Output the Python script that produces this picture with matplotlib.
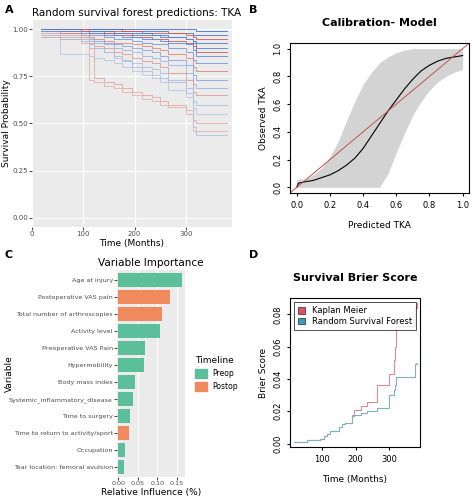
import matplotlib
matplotlib.use("Agg")
import matplotlib.pyplot as plt
import numpy as np
from matplotlib.patches import Patch

# ---- Panel A data ----
times_a = [18, 55, 95, 110, 120, 140, 160, 175, 195, 215, 235, 250, 265, 300, 315, 320, 380]
curves_a = [
    [1.00, 1.00, 1.00, 1.00, 1.00, 1.00, 1.00, 1.00, 1.00, 1.00, 1.00, 1.00, 1.00, 1.00, 1.00, 0.99, 0.99],
    [1.00, 1.00, 1.00, 1.00, 1.00, 1.00, 1.00, 0.99, 0.99, 0.99, 0.99, 0.99, 0.98, 0.98, 0.97, 0.97, 0.97],
    [1.00, 1.00, 1.00, 0.99, 0.99, 0.99, 0.99, 0.99, 0.99, 0.98, 0.98, 0.98, 0.98, 0.97, 0.96, 0.95, 0.95],
    [1.00, 1.00, 0.99, 0.99, 0.99, 0.99, 0.98, 0.98, 0.98, 0.98, 0.97, 0.97, 0.96, 0.95, 0.94, 0.93, 0.93],
    [0.99, 0.99, 0.99, 0.99, 0.99, 0.98, 0.98, 0.98, 0.97, 0.97, 0.97, 0.96, 0.96, 0.95, 0.93, 0.90, 0.90],
    [0.99, 0.99, 0.99, 0.98, 0.98, 0.98, 0.97, 0.97, 0.96, 0.96, 0.95, 0.95, 0.94, 0.93, 0.91, 0.88, 0.88],
    [0.99, 0.99, 0.98, 0.98, 0.98, 0.97, 0.97, 0.96, 0.96, 0.95, 0.95, 0.94, 0.93, 0.92, 0.89, 0.86, 0.86],
    [0.99, 0.98, 0.98, 0.97, 0.97, 0.96, 0.95, 0.95, 0.94, 0.93, 0.92, 0.92, 0.90, 0.88, 0.84, 0.82, 0.82],
    [0.98, 0.98, 0.97, 0.96, 0.95, 0.94, 0.93, 0.93, 0.92, 0.91, 0.90, 0.89, 0.87, 0.85, 0.80, 0.78, 0.78],
    [0.98, 0.97, 0.96, 0.95, 0.94, 0.93, 0.92, 0.91, 0.90, 0.89, 0.88, 0.86, 0.84, 0.81, 0.76, 0.73, 0.73],
    [0.98, 0.97, 0.96, 0.94, 0.93, 0.92, 0.90, 0.89, 0.88, 0.86, 0.85, 0.83, 0.81, 0.77, 0.71, 0.69, 0.69],
    [0.97, 0.96, 0.95, 0.93, 0.91, 0.90, 0.88, 0.87, 0.85, 0.83, 0.82, 0.80, 0.77, 0.73, 0.67, 0.65, 0.65],
    [0.97, 0.95, 0.94, 0.92, 0.90, 0.88, 0.86, 0.84, 0.82, 0.80, 0.79, 0.77, 0.73, 0.69, 0.62, 0.60, 0.60],
    [0.96, 0.87, 0.87, 0.86, 0.85, 0.84, 0.82, 0.80, 0.78, 0.76, 0.74, 0.72, 0.68, 0.64, 0.58, 0.55, 0.55],
    [0.96, 0.95, 0.93, 0.90, 0.74, 0.72, 0.71, 0.69, 0.67, 0.65, 0.64, 0.62, 0.60, 0.57, 0.52, 0.50, 0.50],
    [0.98, 0.97, 0.95, 0.73, 0.72, 0.70, 0.69, 0.67, 0.65, 0.63, 0.62, 0.60, 0.59, 0.55, 0.48, 0.46, 0.46],
    [0.97, 0.96, 0.94, 0.92, 0.90, 0.88, 0.85, 0.83, 0.80, 0.78, 0.76, 0.74, 0.72, 0.66, 0.46, 0.44, 0.44],
]
colors_a = ["#3f6fd0", "#4472d2", "#d9584e", "#4a78d4", "#5580d6", "#cf5a5a", "#6088d8", "#7195dc",
            "#e0847a", "#86a4e0", "#9ab3e4", "#e09a92", "#a9bde6", "#b6c6e8", "#e0a8a2", "#e8b0aa", "#b0bfdc"]

# ---- Panel B data ----
pred_b = [0.0, 0.01, 0.05, 0.1, 0.15, 0.2, 0.25, 0.3, 0.35, 0.4, 0.45, 0.5, 0.55, 0.6, 0.65, 0.7, 0.75, 0.8, 0.85, 0.9, 0.95, 1.0]
obs_b = [0.0, 0.03, 0.04, 0.05, 0.07, 0.09, 0.12, 0.16, 0.21, 0.28, 0.37, 0.46, 0.55, 0.63, 0.71, 0.78, 0.84, 0.88, 0.91, 0.93, 0.94, 0.95]
lo_b = [0.0, 0.0, 0.0, 0.0, 0.0, 0.0, 0.0, 0.0, 0.0, 0.0, 0.0, 0.0, 0.1, 0.25, 0.39, 0.52, 0.62, 0.70, 0.76, 0.80, 0.83, 0.85]
hi_b = [0.05, 0.06, 0.06, 0.09, 0.14, 0.22, 0.33, 0.48, 0.62, 0.74, 0.83, 0.90, 0.94, 0.97, 0.99, 1.0, 1.0, 1.0, 1.0, 1.0, 1.0, 1.0]

# ---- Panel C data ----
variables = ["Age at injury", "Postoperative VAS pain", "Total number of arthroscopies", "Activity level",
             "Preoperative VAS Pain", "Hypermobility", "Body mass index", "Systemic_inflammatory_disease",
             "Time to surgery", "Time to return to activity/sport", "Occupation", "Tear location: femoral avulsion"]
influence = [0.162, 0.133, 0.112, 0.106, 0.069, 0.066, 0.043, 0.037, 0.029, 0.028, 0.016, 0.015]
timeline = ["Preop", "Postop", "Postop", "Preop", "Preop", "Preop", "Preop", "Preop", "Preop", "Postop", "Preop", "Preop"]

# ---- Panel D data ----
t_d = [18, 55, 95, 105, 115, 125, 150, 160, 170, 190, 195, 215, 235, 265, 300, 315, 318, 322, 375, 378, 382]
km_d = [0.001, 0.002, 0.003, 0.005, 0.006, 0.008, 0.010, 0.012, 0.013, 0.018, 0.021, 0.023, 0.026, 0.036, 0.043, 0.052, 0.060, 0.073, 0.073, 0.084, 0.087]
rsf_d = [0.001, 0.002, 0.003, 0.005, 0.006, 0.008, 0.010, 0.012, 0.013, 0.017, 0.018, 0.019, 0.020, 0.022, 0.030, 0.033, 0.036, 0.041, 0.041, 0.049, 0.050]

fig = plt.figure(figsize=(4.74, 5.01), dpi=100)
fig.patch.set_facecolor("white")
grey = "#4d4d4d"

# Panel A
ax = fig.add_axes([0.068, 0.547, 0.421, 0.413])
ax.set_facecolor("#ebebeb")
for v, c in zip(curves_a, colors_a):
    ax.step(times_a, v, where="post", color=c, lw=0.7, alpha=0.85)
ax.set_xlim(0, 390); ax.set_ylim(-0.05, 1.05)
ax.set_xticks([0, 100, 200, 300]); ax.set_yticks([0, 0.25, 0.5, 0.75, 1.0])
ax.set_yticklabels(["0.00", "0.25", "0.50", "0.75", "1.00"])
ax.grid(color="white", lw=0.8)
ax.set_axisbelow(True)
for s in ax.spines.values(): s.set_visible(False)
ax.tick_params(labelsize=5, colors=grey, length=2, pad=1)
ax.set_xlabel("Time (Months)", fontsize=6.5, labelpad=1)
ax.set_ylabel("Survival Probability", fontsize=6.5, labelpad=1)
ax.set_title("Random survival forest predictions: TKA", fontsize=7.5, loc="left", x=0.0, pad=3)
fig.text(0.01, 0.975, "A", fontsize=8, fontweight="bold")

# Panel B
ax = fig.add_axes([0.612, 0.615, 0.378, 0.299])
ax.fill_between(pred_b, lo_b, hi_b, color="#d3d3d3", lw=0)
ax.plot(pred_b, obs_b, color="black", lw=0.8)
ax.plot([-0.05, 1.05], [-0.05, 1.05], color="#c0504d", lw=0.7)
ax.set_xlim(-0.04, 1.04); ax.set_ylim(-0.04, 1.04)
ax.set_xticks(np.arange(0, 1.01, 0.2)); ax.set_yticks(np.arange(0, 1.01, 0.2))
ax.tick_params(labelsize=6, length=2)
for lab in ax.get_yticklabels(): lab.set_rotation(90); lab.set_va("center")
ax.set_xlabel("Predicted TKA", fontsize=6.5, labelpad=8)
ax.set_ylabel("Observed TKA", fontsize=6.5, labelpad=4)
ax.set_title("Calibration- Model", fontsize=8, fontweight="bold", pad=12)
fig.text(0.525, 0.975, "B", fontsize=8, fontweight="bold")

# Panel C
ax = fig.add_axes([0.247, 0.048, 0.143, 0.413])
ax.set_facecolor("#ebebeb")
cmap = {"Preop": "#5cbf9c", "Postop": "#f08a5d"}
y = np.arange(len(variables))[::-1]
ax.barh(y, influence, color=[cmap[t] for t in timeline], height=0.85)
ax.set_yticks(y); ax.set_yticklabels(variables)
ax.set_xlim(-0.003, 0.17); ax.set_ylim(-0.6, len(variables) - 0.4)
ax.set_xticks([0, 0.05, 0.10, 0.15]); ax.set_xticklabels(["0.00", "0.05", "0.10", "0.15"])
ax.grid(axis="x", color="white", lw=0.8); ax.set_axisbelow(True)
for s in ax.spines.values(): s.set_visible(False)
ax.tick_params(labelsize=4.6, colors=grey, length=2, pad=1)
ax.set_xlabel("Relative Influence (%)", fontsize=6.5, labelpad=1)
ax.set_ylabel("Variable", fontsize=6.5)
ax.yaxis.set_label_coords(-1.52, 0.5)
ax.set_title("Variable Importance", fontsize=7.5, pad=3)
ax.legend(handles=[Patch(color=cmap["Preop"], label="Preop"), Patch(color=cmap["Postop"], label="Postop")],
          title="Timeline", fontsize=5.5, title_fontsize=6.5, frameon=False,
          loc="center left", bbox_to_anchor=(1.05, 0.5), handlelength=1.5, handleheight=1.5, alignment="left")
fig.text(0.01, 0.485, "C", fontsize=8, fontweight="bold")

# Panel D
ax = fig.add_axes([0.612, 0.108, 0.274, 0.297])
ax.step(t_d, km_d, where="post", color="#e08a96", lw=0.8, label="Kaplan Meier")
ax.step(t_d, rsf_d, where="post", color="#7fb3b8", lw=0.8, label="Random Survival Forest")
ax.set_xlim(5, 392); ax.set_ylim(-0.002, 0.09)
ax.set_xticks([100, 200, 300]); ax.set_yticks([0, 0.02, 0.04, 0.06, 0.08])
ax.set_yticklabels(["0.00", "0.02", "0.04", "0.06", "0.08"])
ax.tick_params(labelsize=6, length=2)
for lab in ax.get_yticklabels(): lab.set_rotation(90); lab.set_va("center")
ax.set_xlabel("Time (Months)", fontsize=6.5, labelpad=8)
ax.set_ylabel("Brier Score", fontsize=6.5, labelpad=4)
ax.set_title("Survival Brier Score", fontsize=8, fontweight="bold", pad=12)
ax.legend(handles=[Patch(facecolor="#d9536a", edgecolor="k", lw=0.4, label="Kaplan Meier"),
                   Patch(facecolor="#3b9bc4", edgecolor="k", lw=0.4, label="Random Survival Forest")],
          loc="upper left", fontsize=6, fancybox=False, edgecolor="black", handlelength=0.8, handleheight=0.8,
          borderpad=0.5, labelspacing=0.2).get_frame().set_linewidth(0.6)
fig.text(0.525, 0.485, "D", fontsize=8, fontweight="bold")

fig.savefig("out.png", dpi=100)
